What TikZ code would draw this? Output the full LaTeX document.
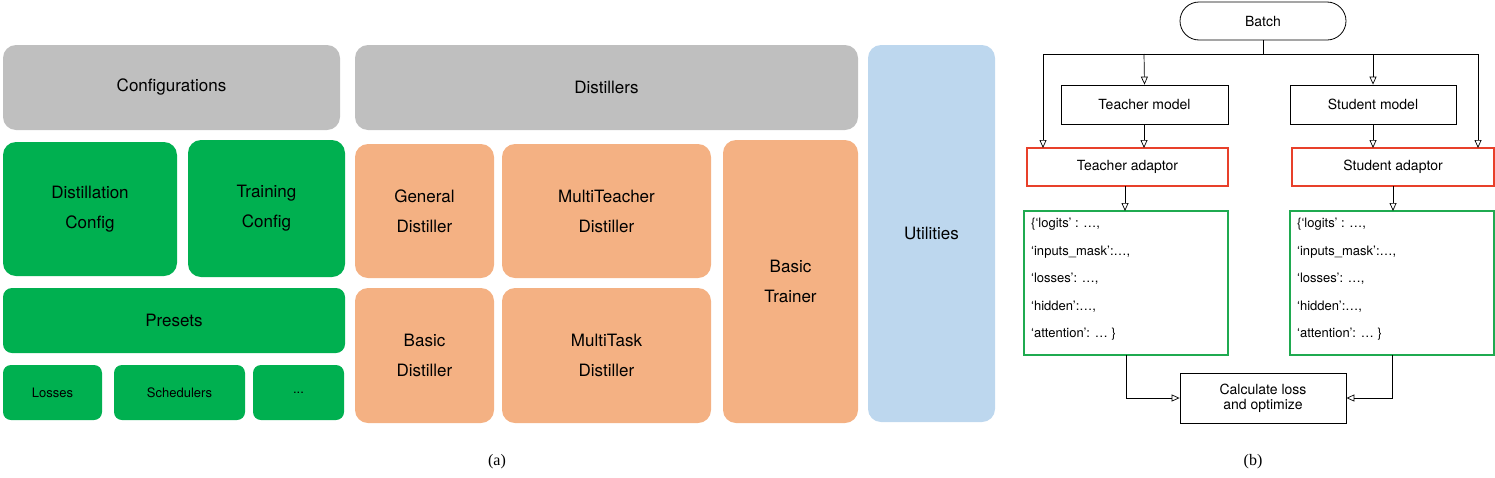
\documentclass[tikz,border=0pt]{standalone}
\usepackage{fontspec}
\setmainfont{Liberation Serif}
\newfontfamily\hv{TeX Gyre Heros}
\usetikzlibrary{arrows.meta}
\definecolor{gr}{HTML}{BFBFBF}
\definecolor{gn}{HTML}{00B050}
\definecolor{og}{HTML}{F4B183}
\definecolor{bl}{HTML}{BDD7EE}
\definecolor{rd}{HTML}{E8402A}
\definecolor{gb}{HTML}{1FAA50}
\newcommand\bx[7]{\node[#2,minimum width={(#5-#3)*1pt},minimum height={(#6-#4)*1pt},inner sep=0pt,align=center] (#1) at ({(#3+#5)/2},{(#4+#6)/2}) {#7};}
\begin{document}
\begin{tikzpicture}[x=1pt,y=-1pt,font=\hv,
  blk/.style={rounded corners=13pt,text=black,font=\hv\fontsize{17}{30}\selectfont},
  sm/.style={rounded corners=8pt,fill=gn,font=\hv\fontsize{13}{16}\selectfont},
  fb/.style={draw,line width=0.8pt,font=\hv\fontsize{14}{17}\selectfont},
  rb/.style={draw=rd,line width=1.6pt,font=\hv\fontsize{14}{17}\selectfont},
  gbx/.style={draw=gb,line width=1.6pt},
  ar/.style={-{Triangle[open,length=8pt,width=7pt]},line width=0.7pt}]
\useasboundingbox (0,0) rectangle (1495,477);
\bx{conf}{blk,fill=gr}{3}{45}{340}{130}{Configurations}
\bx{dist}{blk,fill=gr}{355}{45}{858}{130}{Distillers}
\bx{util}{blk,fill=bl}{868}{45}{995}{422}{Utilities}
\bx{dc}{blk,fill=gn}{3}{142}{177}{276}{Distillation\\Config}
\bx{tc}{blk,fill=gn}{188}{140}{345}{277}{Training\\Config}
\bx{pre}{blk,rounded corners=9pt,fill=gn}{3}{288}{345}{353}{Presets}
\bx{los}{sm}{3}{365}{102}{420}{Losses}
\bx{sch}{sm}{114}{365}{245}{420}{Schedulers}
\bx{dots}{sm}{253}{365}{344}{420}{...}
\bx{gd}{blk,fill=og}{355}{144}{494}{278}{General\\Distiller}
\bx{mtd}{blk,fill=og}{502}{144}{711}{278}{MultiTeacher\\Distiller}
\bx{bd}{blk,fill=og}{355}{288}{494}{423}{Basic\\Distiller}
\bx{mtk}{blk,fill=og}{502}{288}{711}{423}{MultiTask\\Distiller}
\bx{bt}{blk,fill=og}{723}{140}{858}{423}{Basic\\Trainer}
\node[font=\fontsize{16}{18}\selectfont] (la) at (497,462) {(a)};
% right
\bx{batch}{fb,rounded corners=19pt}{1180}{2}{1346}{40}{Batch}
\bx{tm}{fb}{1061}{85}{1228}{124}{Teacher model}
\bx{smd}{fb}{1290}{85}{1456}{124}{Student model}
\bx{ta}{rb}{1027}{148}{1228}{186}{Teacher adaptor}
\bx{sa}{rb}{1292}{148}{1494}{186}{Student adaptor}
\bx{tg}{gbx}{1024}{211}{1228}{355}{}
\bx{sg}{gbx}{1290}{211}{1494}{355}{}
\bx{calc}{fb}{1180}{373}{1346}{423}{Calculate loss\\[-2pt]and optimize}
\node[font=\fontsize{16}{18}\selectfont] (lb) at (1253,462) {(b)};
\foreach \n/\xx in {tg/1031,sg/1297}{
\node[anchor=north west,inner sep=0pt,align=left,font=\hv\fontsize{13}{27.5}\selectfont] (\n t) at (\xx,218)
 {\{‘logits’ : …,\\ ‘inputs\_mask’:…,\\ ‘losses’: …,\\ ‘hidden’:…,\\ ‘attention’: … \}};}
\coordinate (bj) at (1263,54);
\draw[line width=0.7pt] (batch.south) -- (bj);
\draw[ar] (bj) -| (1043,148);
\draw[ar] (bj) -| (1478,148);
\draw[ar] (1144,54) -- (tm.north);
\draw[ar] (1373,54) -- (smd.north);
\draw[ar] (1144,124) -- (1144,148);
\draw[ar] (1373,124) -- (1373,148);
\draw[ar] (1125,186) -- (1125,211);
\draw[ar] (1393,186) -- (1393,211);
\draw[ar] (1126,355) |- (calc.west);
\draw[ar] (1392,355) |- (calc.east);
\end{tikzpicture}
\end{document}
